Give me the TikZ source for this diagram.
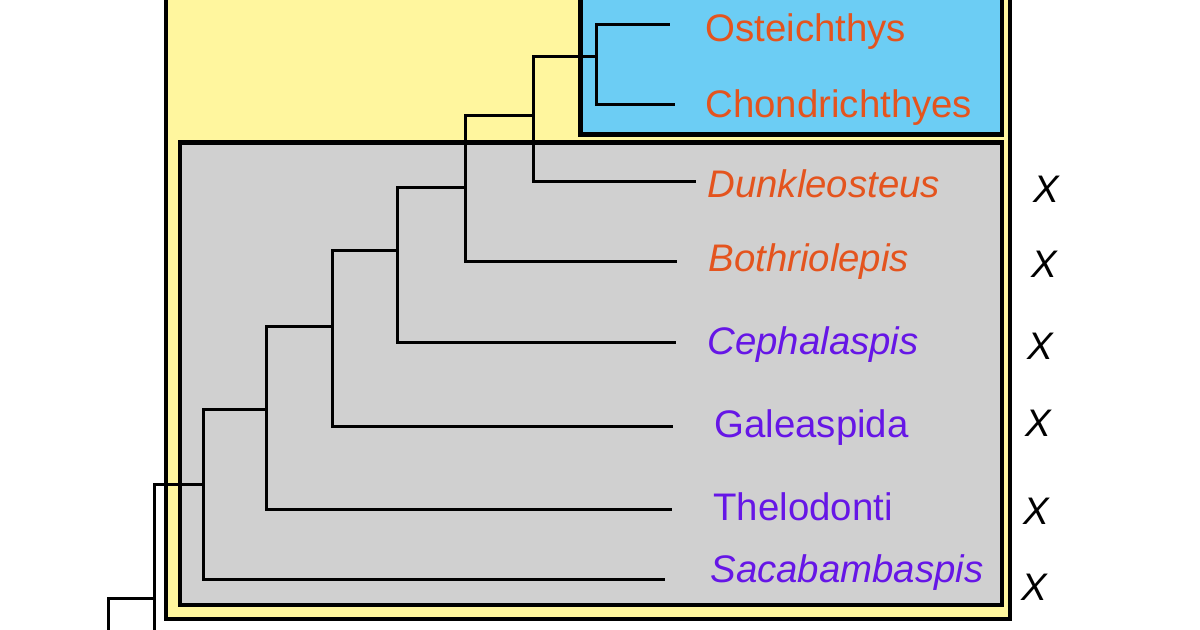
\documentclass[tikz,border=0pt]{standalone}
\usepackage{fontspec}
\setmainfont{Liberation Sans}
\definecolor{boxyellow}{RGB}{255,246,158}
\definecolor{boxblue}{RGB}{108,205,244}
\definecolor{boxgray}{RGB}{208,208,208}
\definecolor{orng}{RGB}{228,84,30}
\definecolor{purp}{RGB}{102,22,230}
\begin{document}
\begin{tikzpicture}[x=0.5pt,y=-0.5pt,
  branch/.style={line width=1.5pt,black},
  frame/.style={line width=2.4pt,draw=black},
  taxon/.style={anchor=base west,inner sep=0pt,font=\fontsize{19.2pt}{22pt}\selectfont},
  orng/.style={taxon,text=orng},
  purp/.style={taxon,text=purp},
  ital/.style={font=\fontsize{19.2pt}{22pt}\selectfont\itshape},
  xmark/.style={anchor=base west,inner sep=0pt,font=\fontsize{19.2pt}{22pt}\selectfont\itshape}]
\useasboundingbox (0,0) rectangle (1200,630);
\clip (0,0) rectangle (1200,630);
% boxes
\path[frame,fill=boxyellow] (166,-20) rectangle (1010,619);
\path[frame,fill=boxblue] (580.5,-20) rectangle (1002,134.5);
\path[frame,fill=boxgray] (180,142.5) rectangle (1002,605);
% coordinates of the tree
\coordinate (n1) at (596,57);
\coordinate (n2) at (533,116);
\coordinate (n3) at (465,188);
\coordinate (n4) at (397,251);
\coordinate (n5) at (332,327);
\coordinate (n6) at (266,410);
\coordinate (n7) at (203,485);
\coordinate (n8) at (154,598);
\coordinate (n8low) at (154,660);
\coordinate (n9) at (108,660);
\coordinate (tOst) at (670,25);
\coordinate (tCho) at (675,105);
\coordinate (tDun) at (696,182);
\coordinate (tBot) at (677,262);
\coordinate (tCep) at (676,343);
\coordinate (tGal) at (673,427);
\coordinate (tThe) at (672,510);
\coordinate (tSac) at (665,580);
% branches
\draw[branch] (n1) |- (tOst);
\draw[branch] (n1) |- (tCho);
\draw[branch] (n2) |- (n1);
\draw[branch] (n2) |- (tDun);
\draw[branch] (n3) |- (n2);
\draw[branch] (n3) |- (tBot);
\draw[branch] (n4) |- (n3);
\draw[branch] (n4) |- (tCep);
\draw[branch] (n5) |- (n4);
\draw[branch] (n5) |- (tGal);
\draw[branch] (n6) |- (n5);
\draw[branch] (n6) |- (tThe);
\draw[branch] (n7) |- (n6);
\draw[branch] (n7) |- (tSac);
\draw[branch] (n8) |- (n7);
\draw[branch] (n8) -- (n8low);
\draw[branch] (n9) |- (n8);
% taxa
\node[orng] (lOst) at (705,42) {Osteichthys};
\node[orng] (lCho) at (705,118) {Chondrichthyes};
\node[orng,ital] (lDun) at (707,198) {Dunkleosteus};
\node[orng,ital] (lBot) at (708,272) {Bothriolepis};
\node[purp,ital] (lCep) at (707,355) {Cephalaspis};
\node[purp] (lGal) at (714,438) {Galeaspida};
\node[purp] (lThe) at (713,521) {Thelodonti};
\node[purp,ital] (lSac) at (710,582) {Sacabambaspis};
% marks
\node[xmark] (x1) at (1033,203) {X};
\node[xmark] (x2) at (1031,278) {X};
\node[xmark] (x3) at (1027,360) {X};
\node[xmark] (x4) at (1025,437) {X};
\node[xmark] (x5) at (1023,525) {X};
\node[xmark] (x6) at (1021,601) {X};
\end{tikzpicture}
\end{document}
